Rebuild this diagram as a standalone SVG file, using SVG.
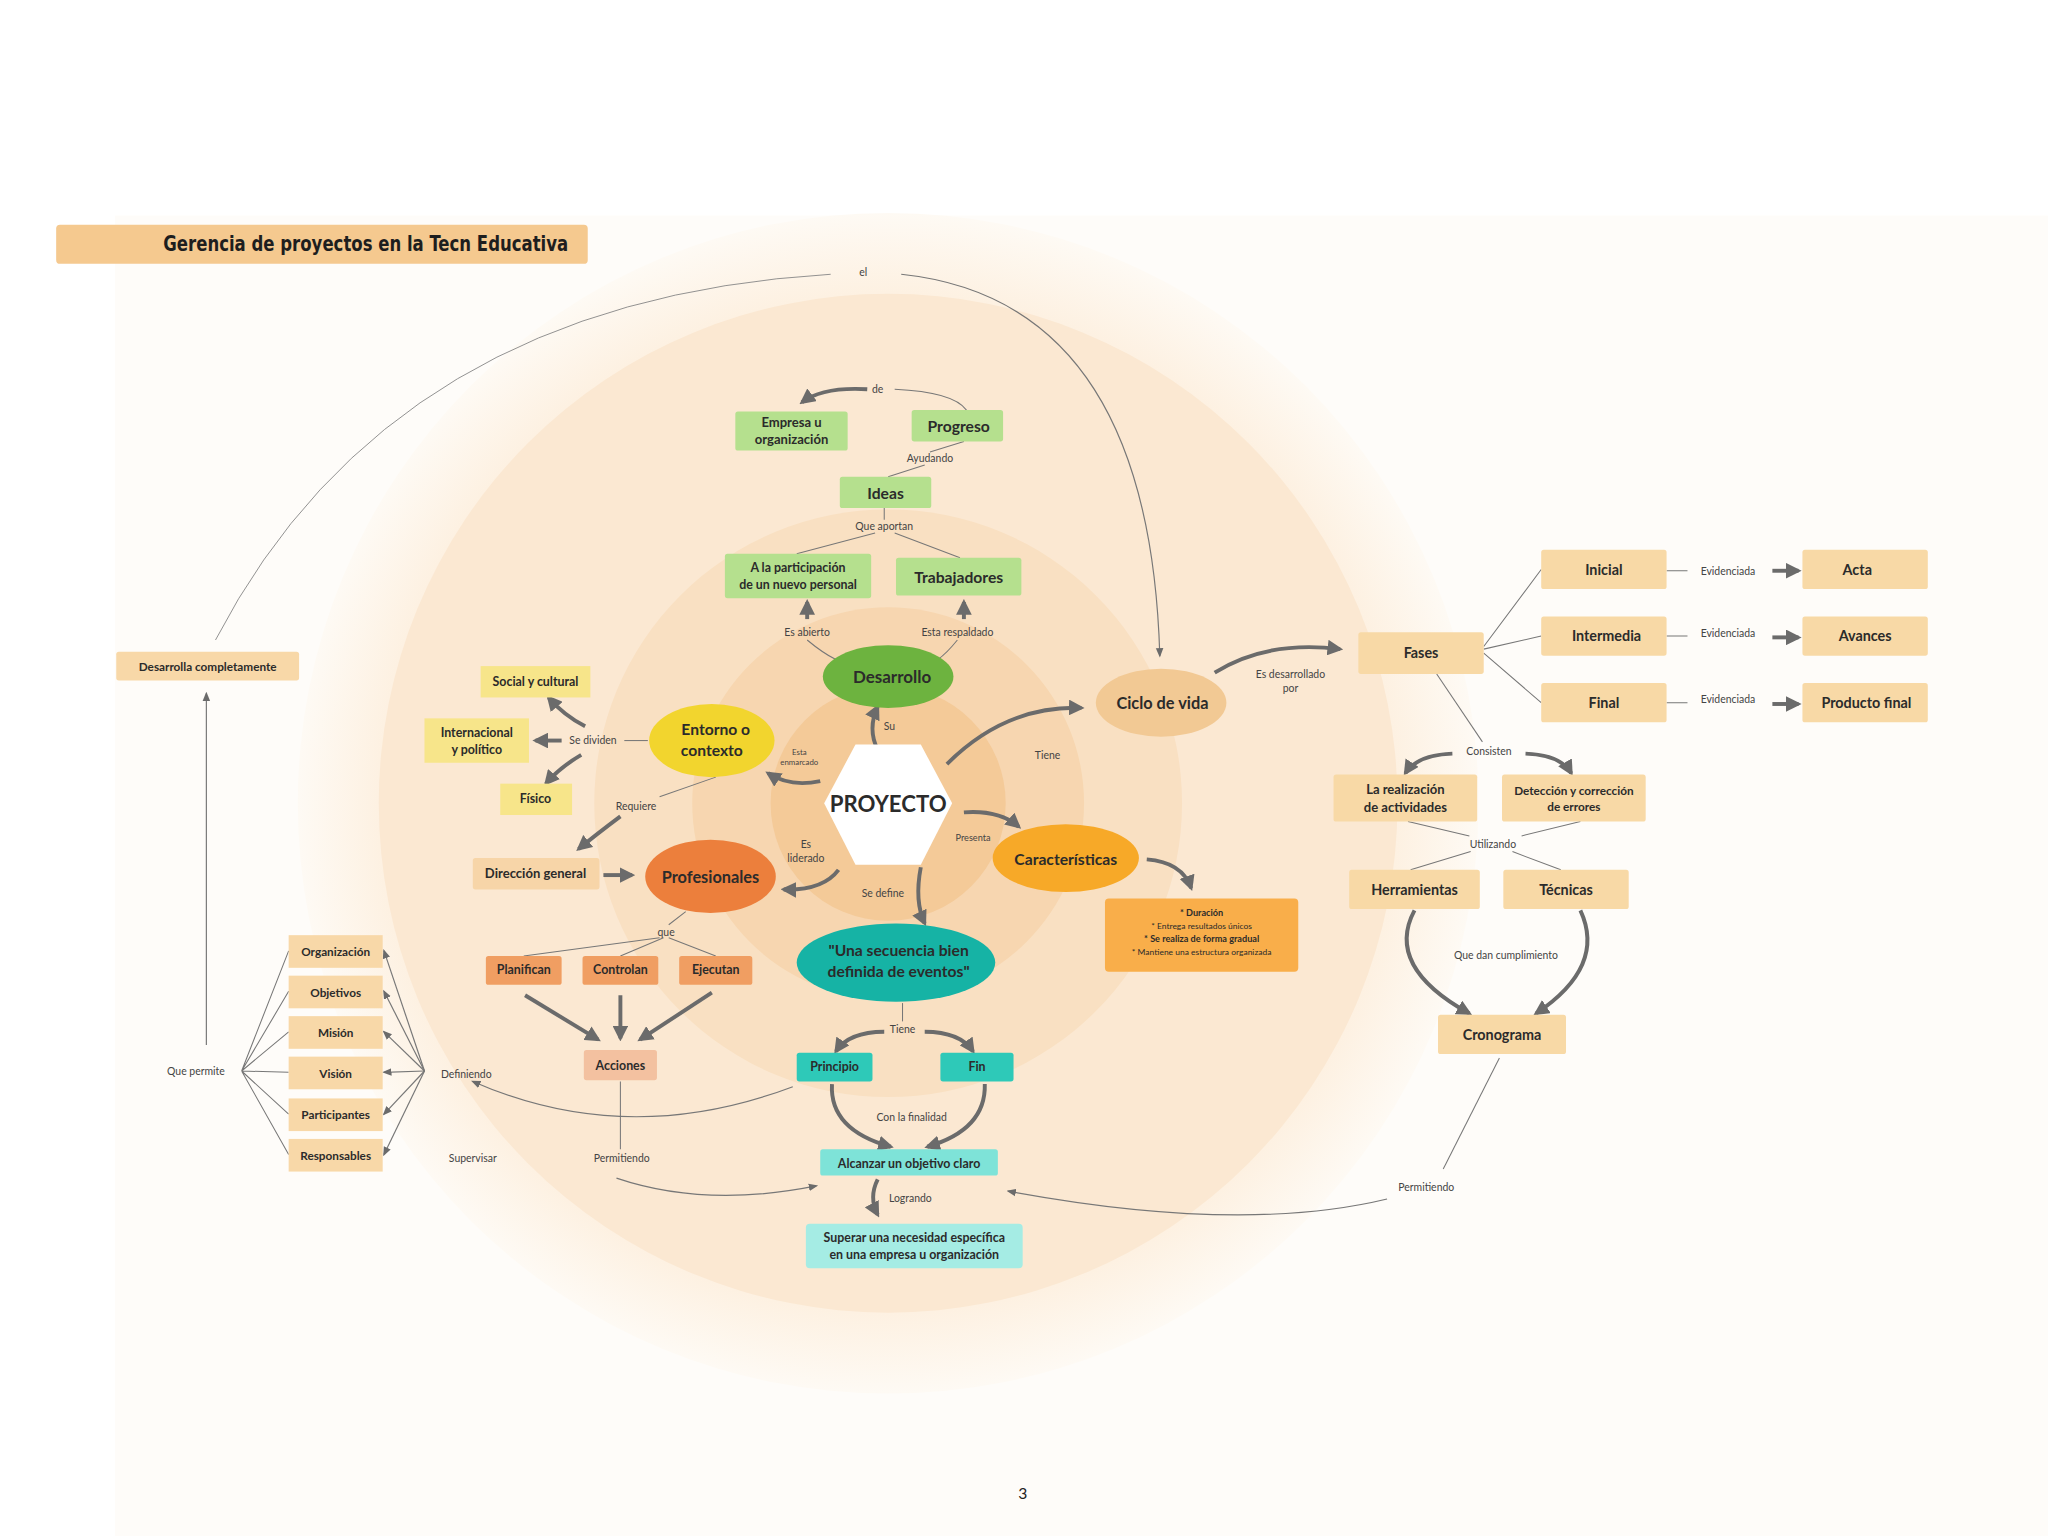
<svg xmlns="http://www.w3.org/2000/svg" width="2048" height="1540" viewBox="0 0 2048 1540">
<defs>
<marker id="ah" viewBox="0 0 10 10" refX="8" refY="5" markerWidth="4" markerHeight="4" orient="auto"><path d="M0,0L10,5L0,10z" fill="#6b6b6b"/></marker>
<marker id="as" viewBox="0 0 10 10" refX="8" refY="5" markerWidth="8" markerHeight="8" orient="auto"><path d="M0,1L10,5L0,9z" fill="#6b6b6b"/></marker>
<radialGradient id="fadeL" cx="0.5" cy="0.5" r="0.5"><stop offset="0.85" stop-color="#fdf0e0"/><stop offset="1" stop-color="#fefaf4"/></radialGradient>
</defs>
<style>
text{font-family:Lato,"Liberation Sans",sans-serif;fill:#2b2b2b;text-anchor:middle}
.b{font-weight:bold}
.lbl{font-size:8px;fill:#444}
.t{font-size:11px;font-weight:bold}
.ln{fill:none;stroke:#777;stroke-width:0.8}
.thin{fill:none;stroke:#888;stroke-width:0.7}
.ar{fill:none;stroke:#6b6b6b;stroke-width:3;marker-end:url(#ah)}
.arthin{fill:none;stroke:#777;stroke-width:0.9;marker-end:url(#as)}
.peach{fill:#f8d8a8}
</style>
<rect width="2048" height="1540" fill="#ffffff"/>
<g transform="scale(1.3061)">
<rect x="88" y="165" width="1480" height="1011" fill="#fefcf9"/>
<g id="rings">
<circle cx="680" cy="615" r="452" fill="url(#fadeL)"/>
<circle cx="680" cy="615" r="390" fill="#fbe8d2"/>
<circle cx="680" cy="615" r="225" fill="#f9e0c2"/>
<circle cx="680" cy="615" r="150" fill="#f7d6b0"/>
<circle cx="680" cy="615" r="90" fill="#f4ca98"/>
</g>
<g id="title"><rect x="43" y="172" width="407" height="30" rx="3" fill="#f5c98f"/><text x="125" y="192" class="b" textLength="310" lengthAdjust="spacingAndGlyphs" style="text-anchor:start;font-size:16px;font-family:'DejaVu Sans Condensed','Liberation Sans',sans-serif;fill:#1e1e1e">Gerencia de proyectos en la Tecn Educativa</text></g>
<g id="connectors">
<path class="thin" d="M165,490 Q300,230 636,210"/>
<path class="arthin" d="M690,210 Q880,230 888,502"/>
<path class="arthin" d="M158,800 L158,531"/>
<path class="ln" d="M185,820 L221,728 M185,820 L221,759 M185,820 L221,790 M185,820 L221,821 M185,820 L221,853 M185,820 L221,884"/>
<path class="arthin" d="M325,820 L294,728"/><path class="arthin" d="M325,820 L294,759"/><path class="arthin" d="M325,820 L294,790"/><path class="arthin" d="M325,820 L294,821"/><path class="arthin" d="M325,820 L294,853"/><path class="arthin" d="M325,820 L294,884"/>
<path class="arthin" d="M607,832 Q480,880 362,828"/>
<path class="ar" d="M664,298 Q630,296 614,308"/>
<path class="ln" d="M685,298 Q730,300 740,314"/>
<path class="ln" d="M738,338 L712,346 M708,356 L680,365 M677,389 L677,398 M670,408 L610,424 M685,408 L735,427"/>
<path class="ar" d="M618,474 L618,461"/><path class="ar" d="M738,474 L738,461"/>
<path class="ln" d="M618,490 Q630,500 640,505 M733,490 Q725,500 718,505"/>
<path class="ar" d="M672,574 Q664,558 672,541"/>
<path class="ar" d="M628,598 Q605,603 588,592"/>
<path class="ln" d="M478,567 L496,567"/>
<path class="ar" d="M448,556 Q432,548 420,534"/>
<path class="ar" d="M430,567 L410,567"/>
<path class="ar" d="M445,578 Q428,588 418,600"/>
<path class="ln" d="M548,595 L505,610"/>
<path class="ar" d="M475,625 Q455,640 443,650"/>
<path class="ar" d="M462,670 L484,670"/>
<path class="ar" d="M642,666 Q630,682 600,681"/>
<path class="ln" d="M525,698 L512,708 M505,718 L401,732 M508,718 L475,732 M512,718 L548,732"/>
<path class="ar" d="M402,762 L458,796"/><path class="ar" d="M475,762 L475,795"/><path class="ar" d="M545,760 L490,796"/>
<path class="ln" d="M475,828 L475,880"/>
<path class="arthin" d="M472,902 Q540,925 625,908"/>
<path class="ar" d="M705,664 Q700,690 708,707"/>
<path class="ln" d="M691,768 L691,782"/>
<path class="ar" d="M677,790 Q650,790 640,805"/>
<path class="ar" d="M708,790 Q735,790 745,805"/>
<path class="ar" d="M637,830 Q635,865 682,878"/>
<path class="ar" d="M754,830 Q755,865 710,878"/>
<path class="ar" d="M672,903 Q665,917 672,930"/>
<path class="ar" d="M725,585 Q770,540 828,542"/>
<path class="ar" d="M738,622 Q765,620 780,633"/>
<path class="ar" d="M878,658 Q905,660 912,680"/>
<path class="ar" d="M930,515 Q970,490 1026,497"/>
<path class="ln" d="M1136,495 L1180,436 M1136,497 L1180,487 M1136,500 L1180,538"/>
<path class="ln" d="M1276,437 L1292,437 M1276,487 L1292,487 M1276,538 L1292,538"/>
<path class="ar" d="M1357,437 L1377,437"/><path class="ar" d="M1357,488 L1377,488"/><path class="ar" d="M1357,539 L1377,539"/>
<path class="ln" d="M1100,516 L1135,568"/>
<path class="ar" d="M1112,577 Q1085,578 1076,592"/>
<path class="ar" d="M1168,577 Q1195,578 1203,592"/>
<path class="ln" d="M1078,629 L1125,640 M1210,629 L1165,640 M1126,652 L1080,666 M1158,652 L1195,666"/>
<path class="ar" d="M1083,697 Q1060,740 1125,776"/>
<path class="ar" d="M1210,697 Q1230,740 1176,776"/>
<path class="ln" d="M1148,810 L1105,895"/>
<path class="arthin" d="M1062,918 Q950,945 772,912"/>
</g>
<g id="labels">
<text x="661" y="211" class="lbl">el</text><text x="672" y="301" class="lbl">de</text>
<text x="712" y="354" class="lbl">Ayudando</text><text x="677" y="406" class="lbl">Que aportan</text>
<text x="618" y="487" class="lbl">Es abierto</text><text x="733" y="487" class="lbl">Esta respaldado</text>
<text x="681" y="559" class="lbl">Su</text>
<text x="612" y="578" class="lbl" style="font-size:6px">Esta</text><text x="612" y="586" class="lbl" style="font-size:6px">enmarcado</text>
<text x="454" y="570" class="lbl">Se dividen</text><text x="487" y="620" class="lbl">Requiere</text>
<text x="617" y="649" class="lbl">Es</text><text x="617" y="660" class="lbl">liderado</text>
<text x="745" y="644" class="lbl" style="font-size:7px">Presenta</text>
<text x="802" y="581" class="lbl">Tiene</text>
<text x="676" y="687" class="lbl">Se define</text>
<text x="510" y="717" class="lbl">que</text><text x="691" y="791" class="lbl">Tiene</text>
<text x="698" y="858" class="lbl">Con la finalidad</text><text x="697" y="920" class="lbl">Logrando</text>
<text x="476" y="890" class="lbl">Permitiendo</text><text x="362" y="890" class="lbl">Supervisar</text>
<text x="357" y="825" class="lbl">Definiendo</text><text x="150" y="823" class="lbl">Que permite</text>
<text x="988" y="519" class="lbl">Es desarrollado</text><text x="988" y="530" class="lbl">por</text>
<text x="1323" y="440" class="lbl">Evidenciada</text><text x="1323" y="488" class="lbl">Evidenciada</text><text x="1323" y="538" class="lbl">Evidenciada</text>
<text x="1140" y="578" class="lbl">Consisten</text><text x="1143" y="649" class="lbl">Utilizando</text>
<text x="1153" y="734" class="lbl">Que dan cumplimiento</text><text x="1092" y="912" class="lbl">Permitiendo</text>
<text x="783" y="1148" style="font-size:12px;fill:#222">3</text>
</g>
<g id="n-desarrolla"><rect x="89" y="499" width="140" height="22" rx="2" class="peach"/><text x="159" y="514" class="b" style="font-size:9px">Desarrolla completamente</text></g>
<g id="n-organizacion"><rect x="221" y="716" width="72" height="25" class="peach"/><text x="257" y="732" class="b" style="font-size:9px">Organización</text></g>
<g id="n-objetivos"><rect x="221" y="747" width="72" height="25" class="peach"/><text x="257" y="763" class="b" style="font-size:9px">Objetivos</text></g>
<g id="n-mision"><rect x="221" y="778" width="72" height="25" class="peach"/><text x="257" y="794" class="b" style="font-size:9px">Misión</text></g>
<g id="n-vision"><rect x="221" y="809" width="72" height="25" class="peach"/><text x="257" y="825" class="b" style="font-size:9px">Visión</text></g>
<g id="n-participantes"><rect x="221" y="841" width="72" height="25" class="peach"/><text x="257" y="857" class="b" style="font-size:9px">Participantes</text></g>
<g id="n-responsables"><rect x="221" y="872" width="72" height="25" class="peach"/><text x="257" y="888" class="b" style="font-size:9px">Responsables</text></g>
<g id="n-empresa"><rect x="563" y="315" width="86" height="30" rx="2" fill="#b5e08e"/><text x="606" y="327" class="b" style="font-size:10px">Empresa u</text><text x="606" y="340" class="b" style="font-size:10px">organización</text></g>
<g id="n-progreso"><rect x="698" y="314" width="70" height="24" rx="2" fill="#b5e08e"/><text x="734" y="331" class="t" style="font-size:12px">Progreso</text></g>
<g id="n-ideas"><rect x="643" y="365" width="70" height="24" rx="2" fill="#b5e08e"/><text x="678" y="382" class="t" style="font-size:12px">Ideas</text></g>
<g id="n-participacion"><rect x="555" y="424" width="112" height="34" rx="2" fill="#b5e08e"/><text x="611" y="438" class="b" style="font-size:9.5px">A la participación</text><text x="611" y="451" class="b" style="font-size:9.5px">de un nuevo personal</text></g>
<g id="n-trabajadores"><rect x="686" y="427" width="96" height="29" rx="2" fill="#b5e08e"/><text x="734" y="446" class="t" style="font-size:12px">Trabajadores</text></g>
<g id="n-desarrollo"><ellipse cx="680" cy="518" rx="50" ry="24" fill="#6db33f"/><text x="683" y="523" class="t" style="font-size:13px">Desarrollo</text></g>
<g id="n-proyecto"><polygon points="631,615 655,570 705,570 729,615 705,662 655,662" fill="#ffffff"/><text x="680" y="622" class="b" style="font-size:17px">PROYECTO</text></g>
<g id="n-entorno"><ellipse cx="545" cy="567" rx="48" ry="28" fill="#f2d52e"/><text x="548" y="563" class="t" style="font-size:12px">Entorno o</text><text x="545" y="579" class="t" style="font-size:12px">contexto</text></g>
<g id="n-social"><rect x="368" y="510" width="84" height="24" fill="#f7e58a"/><text x="410" y="525" class="b" style="font-size:9.5px">Social y cultural</text></g>
<g id="n-internacional"><rect x="325" y="550" width="80" height="34" fill="#f7e58a"/><text x="365" y="564" class="b" style="font-size:9.5px">Internacional</text><text x="365" y="577" class="b" style="font-size:9.5px">y político</text></g>
<g id="n-fisico"><rect x="383" y="600" width="55" height="24" fill="#f7e58a"/><text x="410" y="615" class="b" style="font-size:9.5px">Físico</text></g>
<g id="n-direccion"><rect x="362" y="657" width="97" height="24" rx="2" fill="#f7d5a8"/><text x="410" y="672" class="b" style="font-size:10px">Dirección general</text></g>
<g id="n-profesionales"><ellipse cx="544" cy="671" rx="50" ry="28" fill="#ec7f3c"/><text x="544" y="676" class="t" style="font-size:12.5px">Profesionales</text></g>
<g id="n-planifican"><rect x="372" y="732" width="58" height="22" rx="2" fill="#f09e62"/><text x="401" y="746" class="b" style="font-size:9.5px">Planifican</text></g>
<g id="n-controlan"><rect x="446" y="732" width="58" height="22" rx="2" fill="#f09e62"/><text x="475" y="746" class="b" style="font-size:9.5px">Controlan</text></g>
<g id="n-ejecutan"><rect x="520" y="732" width="56" height="22" rx="2" fill="#f09e62"/><text x="548" y="746" class="b" style="font-size:9.5px">Ejecutan</text></g>
<g id="n-acciones"><rect x="447" y="804" width="56" height="23" rx="2" fill="#f3c1a0"/><text x="475" y="819" class="b" style="font-size:9.5px">Acciones</text></g>
<g id="n-secuencia"><ellipse cx="686" cy="737" rx="76" ry="30" fill="#16b3a5"/><text x="688" y="732" class="t" style="font-size:12px">"Una secuencia bien</text><text x="688" y="748" class="t" style="font-size:12px">definida de eventos"</text></g>
<g id="n-principio"><rect x="610" y="806" width="58" height="22" rx="2" fill="#2ec9b8"/><text x="639" y="820" class="b" style="font-size:9.5px">Principio</text></g>
<g id="n-fin"><rect x="720" y="806" width="56" height="22" rx="2" fill="#2ec9b8"/><text x="748" y="820" class="b" style="font-size:9.5px">Fin</text></g>
<g id="n-alcanzar"><rect x="628" y="880" width="136" height="20" rx="2" fill="#7ee3d8"/><text x="696" y="894" class="b" style="font-size:9.5px">Alcanzar un objetivo claro</text></g>
<g id="n-superar"><rect x="617" y="937" width="166" height="34" rx="3" fill="#a5ece4"/><text x="700" y="951" class="b" style="font-size:9.5px">Superar una necesidad específica</text><text x="700" y="964" class="b" style="font-size:9.5px">en una empresa u organización</text></g>
<g id="n-ciclo"><ellipse cx="889" cy="538" rx="50" ry="26" fill="#f2c994"/><text x="890" y="543" class="t" style="font-size:12.5px">Ciclo de vida</text></g>
<g id="n-caracteristicas"><ellipse cx="816" cy="657" rx="56" ry="26" fill="#f7a928"/><text x="816" y="662" class="t" style="font-size:12px">Características</text></g>
<g id="n-lista"><rect x="846" y="688" width="148" height="56" rx="3" fill="#f9ae4a"/><text x="920" y="701" class="b" style="font-size:7px">* Duración</text><text x="920" y="711" style="font-size:6.5px">* Entrega resultados únicos</text><text x="920" y="721" class="b" style="font-size:7px">* Se realiza de forma gradual</text><text x="920" y="731" style="font-size:6.5px">* Mantiene una estructura organizada</text></g>
<g id="n-fases"><rect x="1040" y="484" width="96" height="32" rx="2" fill="#f8d9a6"/><text x="1088" y="504" class="t">Fases</text></g>
<g id="n-inicial"><rect x="1180" y="421" width="96" height="30" rx="2" fill="#f8d9a6"/><text x="1228" y="440" class="t">Inicial</text></g>
<g id="n-intermedia"><rect x="1180" y="472" width="96" height="30" rx="2" fill="#f8d9a6"/><text x="1230" y="491" class="t">Intermedia</text></g>
<g id="n-final"><rect x="1180" y="523" width="96" height="30" rx="2" fill="#f8d9a6"/><text x="1228" y="542" class="t">Final</text></g>
<g id="n-acta"><rect x="1380" y="421" width="96" height="30" rx="2" fill="#f8d9a6"/><text x="1422" y="440" class="t">Acta</text></g>
<g id="n-avances"><rect x="1380" y="472" width="96" height="30" rx="2" fill="#f8d9a6"/><text x="1428" y="491" class="t">Avances</text></g>
<g id="n-producto"><rect x="1380" y="523" width="96" height="30" rx="2" fill="#f8d9a6"/><text x="1429" y="542" class="t">Producto final</text></g>
<g id="n-realizacion"><rect x="1021" y="593" width="110" height="36" rx="2" fill="#f8d9a6"/><text x="1076" y="608" class="b" style="font-size:10px">La realización</text><text x="1076" y="622" class="b" style="font-size:10px">de actividades</text></g>
<g id="n-deteccion"><rect x="1150" y="593" width="110" height="36" rx="2" fill="#f8d9a6"/><text x="1205" y="609" class="b" style="font-size:9px">Detección y corrección</text><text x="1205" y="621" class="b" style="font-size:9px">de errores</text></g>
<g id="n-herramientas"><rect x="1033" y="666" width="100" height="30" rx="2" fill="#f8d9a6"/><text x="1083" y="685" class="t">Herramientas</text></g>
<g id="n-tecnicas"><rect x="1151" y="666" width="96" height="30" rx="2" fill="#f8d9a6"/><text x="1199" y="685" class="t">Técnicas</text></g>
<g id="n-cronograma"><rect x="1101" y="777" width="98" height="30" rx="2" fill="#f8d9a6"/><text x="1150" y="796" class="t">Cronograma</text></g>
</g>
</svg>
